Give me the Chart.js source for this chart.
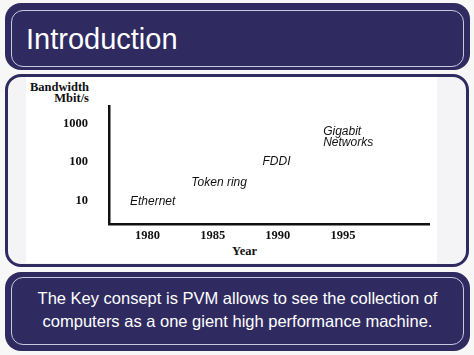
<!DOCTYPE html>
<html>
<head>
<meta charset="utf-8">
<script src="https://cdn.jsdelivr.net/npm/chart.js@4.4.1/dist/chart.umd.min.js"></script>
<style>
  html, body { margin: 0; padding: 0; }
  body { width: 474px; height: 355px; background: #f7f7f7; position: relative; overflow: hidden; font-family: "Liberation Sans", Arial, sans-serif; }
  .navy { position: absolute; background: #2f2b61; border-radius: 16px; }
  .inner { position: absolute; border: 1px solid #c9c8e2; border-radius: 12px; box-sizing: border-box; }
  #titleBox { left: 5px; top: 3px; width: 465px; height: 67px; }
  #titleInner { left: 11px; top: 10px; width: 453px; height: 57px; }
  #title { position: absolute; left: 26px; top: 19px; color: #fff; font-size: 29px; line-height: 40px; font-family: "Liberation Sans", Arial, sans-serif; }
  #mid { position: absolute; left: 5px; top: 74px; width: 464px; height: 193px; box-sizing: border-box; border: 3.5px solid #2f2b61; border-radius: 16px; background: #f4f4f7; }
  #white { position: absolute; left: 26px; top: 77px; width: 411px; height: 186px; background: #fff; }
  #botBox { left: 5px; top: 272px; width: 465px; height: 79px; }
  #botInner { left: 11px; top: 277px; width: 453px; height: 68px; }
  #botText { position: absolute; left: 5px; top: 287px; width: 465px; text-align: center; color: #fff; font-size: 16.5px; line-height: 23px; }
  .serifb { position: absolute; font-family: "Liberation Serif", "Times New Roman", serif; font-weight: bold; color: #111; }
  #ylab { right: 385px; top: 82px; text-align: right; font-size: 12.5px; line-height: 10.5px; }
  #xlab { left: 232px; top: 244px; font-size: 12.5px; line-height: 14px; }
  #wrap { position: absolute; left: 28px; top: 78px; width: 409px; height: 186px; }
</style>
</head>
<body>
<div class="navy" id="titleBox"></div>
<div class="inner" id="titleInner"></div>
<div id="title">Introduction</div>

<div id="mid"></div>
<div id="white"></div>
<div class="serifb" id="ylab">Bandwidth<br>Mbit/s</div>
<div class="serifb" id="xlab">Year</div>
<div id="wrap"><canvas id="c" width="409" height="186"></canvas></div>

<div class="navy" id="botBox"></div>
<div class="inner" id="botInner"></div>
<div id="botText">The Key consept is PVM allows to see the collection of<br>computers as a one gient high performance machine.</div>

<script>
// Data
const networks = ['Ethernet', 'Token ring', 'FDDI', ['Gigabit', 'Networks']];
const years = [1980.4, 1985.5, 1989.9, 1995.4];
const bandwidth = [9.5, 30, 100, 440];
const xTickValues = [1980, 1985, 1990, 1995];
const yTickValues = [10, 100, 1000];

const points = years.map((y, i) => ({ x: y, y: bandwidth[i] }));

const labelPlugin = {
  id: 'pointLabels',
  afterDatasetsDraw(chart) {
    const ctx = chart.ctx;
    const meta = chart.getDatasetMeta(0);
    ctx.save();
    ctx.font = 'italic 12px "Liberation Sans", Arial, sans-serif';
    ctx.fillStyle = '#111';
    ctx.textBaseline = 'middle';
    ctx.textAlign = 'left';
    meta.data.forEach((pt, i) => {
      const lines = Array.isArray(networks[i]) ? networks[i] : [networks[i]];
      const w = Math.max(...lines.map(l => ctx.measureText(l).width));
      const lh = 11;
      const y0 = pt.y - (lines.length - 1) * lh / 2;
      lines.forEach((l, k) => ctx.fillText(l, pt.x - w / 2, y0 + k * lh));
    });
    ctx.restore();
  }
};

const tickFont = { family: '"Liberation Serif", "Times New Roman", serif', weight: 'bold', size: 12.5 };

new Chart(document.getElementById('c'), {
  type: 'scatter',
  data: {
    datasets: [{
      data: points,
      pointRadius: 0,
      pointHoverRadius: 0,
      showLine: false
    }]
  },
  options: {
    responsive: false,
    animation: false,
    events: [],
    layout: { padding: { top: 28, right: 8, left: 0, bottom: 0 } },
    plugins: { legend: { display: false }, tooltip: { enabled: false } },
    scales: {
      x: {
        type: 'linear',
        min: 1977.05,
        max: 2001.6,
        grid: { display: false, drawTicks: false },
        border: { display: true, color: '#111', width: 2.5 },
        afterBuildTicks: s => { s.ticks = xTickValues.map(v => ({ value: v })); },
        afterFit: s => { s.height = 40; },
        ticks: { color: '#111', font: tickFont, padding: 4, maxRotation: 0, callback: v => String(v) }
      },
      y: {
        type: 'logarithmic',
        min: 2.45,
        max: 2800,
        grid: { display: false, drawTicks: false },
        border: { display: true, color: '#111', width: 2.5 },
        afterBuildTicks: s => { s.ticks = yTickValues.map(v => ({ value: v })); },
        afterFit: s => { s.width = 81; },
        ticks: { color: '#111', font: tickFont, padding: 21, callback: v => String(v) }
      }
    }
  },
  plugins: [labelPlugin]
});
</script>
</body>
</html>
